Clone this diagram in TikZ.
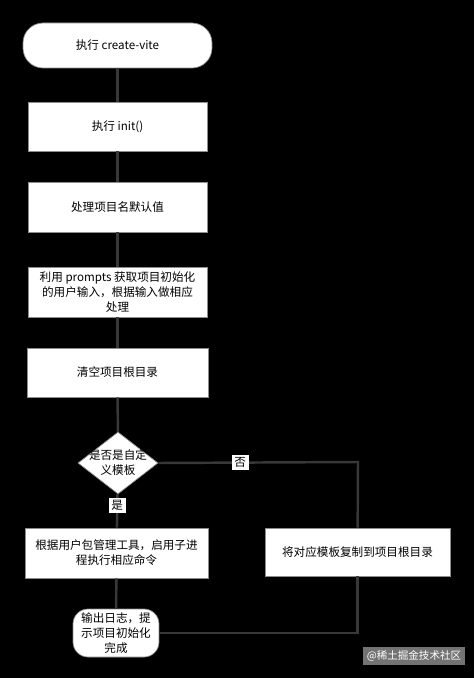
\documentclass[tikz,border=0pt]{standalone}
\usepackage{fontspec}
\setmainfont{Noto Sans CJK SC}
\usetikzlibrary{shapes.geometric}

\begin{document}
\begin{tikzpicture}[x=0.02cm, y=-0.02cm,
font=\fontsize{6.6pt}{8.5pt}\selectfont,
stepbox/.style={rectangle, draw=black!45, fill=white, thin, align=center, inner sep=1pt},
termnode/.style={rectangle, rounded corners=0.4cm, draw=black!45, fill=white, thin, align=center, inner sep=1pt},
decision/.style={diamond, draw=black!45, fill=white, thin, inner sep=0pt, minimum width=1.6cm, minimum height=1.24cm},
tag/.style={fill=white, inner sep=1.5pt},
link/.style={draw=black!78, line width=1.4pt}
]
    \fill[black] (0,0) rectangle (474,678);

    \node [termnode, minimum width=3.78cm, minimum height=0.9cm] (start) at (117.5,45.5) {执行 create-vite};

    \node [stepbox, minimum width=3.58cm, minimum height=0.98cm] (init) at (117.5,126.5) {执行 init()};
    \node [stepbox, minimum width=3.58cm, minimum height=1.0cm] (dflt) at (117.5,207) {处理项目名默认值};
    \node [stepbox, minimum width=3.58cm, minimum height=1.0cm] (ask) at (117.5,292) {利用 prompts 获取项目初始化\\的用户输入，根据输入做相应\\处理};
    \node [stepbox, minimum width=3.62cm, minimum height=0.98cm] (clean) at (117.5,372.5) {清空项目根目录};

    \node [decision] (tpl) at (118,463) {};
    \node [align=center, inner sep=0pt] at (tpl) {是否是自定\\义模板};

    \node [stepbox, minimum width=3.66cm, minimum height=1.0cm] (run) at (116.5,553) {根据用户包管理工具，启用子进\\程执行相应命令};
    \node [stepbox, minimum width=3.7cm, minimum height=0.96cm] (copy) at (357.5,552) {将对应模板复制到项目根目录};

    \node [termnode, rounded corners=0.3cm, minimum width=1.72cm, minimum height=0.96cm] (done) at (116,633) {输出日志，提\\示项目初始化\\完成};

    \coordinate (turn) at (358,462);

    \draw [link] (start) -- (init);
    \draw [link] (init) -- (dflt);
    \draw [link] (dflt) -- (ask);
    \draw [link] (ask) -- (clean);
    \draw [link] (clean) -- (tpl);
    \draw [link] (tpl) -- node [tag, pos=0.35] (yes) {是} (run);
    \draw [link] (tpl.east) -- node [tag, pos=0.41] (no) {否} (turn) -- (copy);
    \draw [link] (run) -- (done);
    \draw [link] (copy.south) |- (done.east);

    \node [fill=black!55, text=white, font=\fontsize{6pt}{7pt}\selectfont, inner sep=2pt] (mark) at (414,656) {@稀土掘金技术社区};
\end{tikzpicture}
\end{document}
